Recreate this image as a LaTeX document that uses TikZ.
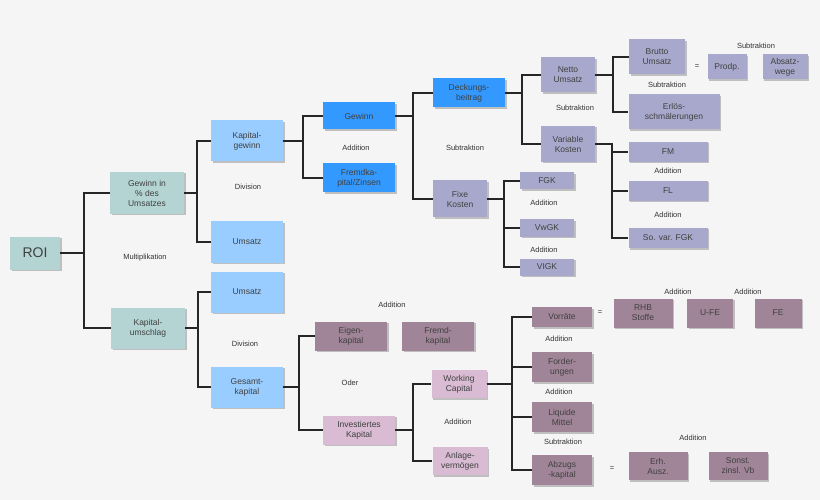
\documentclass[tikz,border=0pt]{standalone}
\usepackage{fontspec}
\setmainfont{Liberation Sans}
\usetikzlibrary{positioning,shadows}
\definecolor{bgc}{HTML}{F5F5F5}
\definecolor{teal}{HTML}{B4D4D4}
\definecolor{lblue}{HTML}{99CCFF}
\definecolor{dblue}{HTML}{3399FF}
\definecolor{lav}{HTML}{A8A8CC}
\definecolor{mauve}{HTML}{A08498}
\definecolor{pink}{HTML}{D9BCD3}
\tikzset{
  box/.style={draw=none, inner sep=0pt, align=center, font=\fontsize{8.5}{10}\selectfont,
    text=black!75, drop shadow={shadow xshift=1.5pt, shadow yshift=-1.5pt, fill=black!30, opacity=.8}},
  roi/.style={box, fill=teal},
  ebene/.style={box, fill=teal},
  hell/.style={box, fill=lblue},
  dunkel/.style={box, fill=dblue},
  lila/.style={box, fill=lav},
  braun/.style={box, fill=mauve},
  rosa/.style={box, fill=pink},
  op/.style={font=\fontsize{7.5}{9}\selectfont, text=black!80},
  conn/.style={line width=1.6pt, black!85},
}
\begin{document}
\begin{tikzpicture}[x=1pt,y=-1pt]
  \fill[bgc] (0,0) rectangle (820,500);
  % Baum links
  \node[roi, minimum width=50, minimum height=33, font=\fontsize{14}{16}\selectfont] (roi) at (35,253) {ROI};
  \node[ebene, minimum width=74, minimum height=42] (gpu) at (147,193) {Gewinn in\\\% des\\Umsatzes};
  \node[ebene, minimum width=74, minimum height=41] (kus) at (148,328) {Kapital-\\umschlag};
  \node[hell, minimum width=72, minimum height=41] (kgw) at (247,141) {Kapital-\\gewinn};
  \node[hell, minimum width=72, minimum height=41] (ums1) at (247,242) {Umsatz};
  \node[hell, minimum width=72, minimum height=41] (ums2) at (247,292) {Umsatz};
  \node[hell, minimum width=72, minimum height=41] (gk) at (247,387) {Gesamt-\\kapital};
  \node[dunkel, minimum width=72, minimum height=27] (gew) at (359,116) {Gewinn};
  \node[dunkel, minimum width=72, minimum height=29] (fkz) at (359,178) {Fremdka-\\pital/Zinsen};
  \node[braun, minimum width=72, minimum height=29] (ek) at (351,336) {Eigen-\\kapital};
  \node[braun, minimum width=72, minimum height=29] (fk) at (438,336) {Fremd-\\kapital};
  \node[rosa, minimum width=72, minimum height=29] (ik) at (359,430) {Investiertes\\Kapital};
  % Gewinn-Zweig
  \node[dunkel, minimum width=72, minimum height=29] (db) at (469,93) {Deckungs-\\beitrag};
  \node[lila, minimum width=54, minimum height=37] (fix) at (460,199) {Fixe\\Kosten};
  \node[lila, minimum width=54, minimum height=35] (nu) at (568,75) {Netto\\Umsatz};
  \node[lila, minimum width=54, minimum height=36] (vk) at (568,144) {Variable\\Kosten};
  \node[lila, minimum width=54, minimum height=17] (fgk) at (547,181) {FGK};
  \node[lila, minimum width=54, minimum height=17] (vwgk) at (547,228) {VwGK};
  \node[lila, minimum width=54, minimum height=17] (vigk) at (547,267) {VIGK};
  \node[lila, minimum width=56, minimum height=35] (bu) at (657,57) {Brutto\\Umsatz};
  \node[lila, minimum width=91, minimum height=35] (es) at (674,112) {Erlös-\\schmälerungen};
  \node[lila, minimum width=39, minimum height=25] (prodp) at (727,67) {Prodp.};
  \node[lila, minimum width=45, minimum height=25] (aw) at (785,67) {Absatz-\\wege};
  \node[lila, minimum width=79, minimum height=20] (fm) at (668,152) {FM};
  \node[lila, minimum width=79, minimum height=20] (fl) at (668,191) {FL};
  \node[lila, minimum width=79, minimum height=20] (svf) at (668,238) {So. var. FGK};
  % Kapital-Zweig
  \node[rosa, minimum width=55, minimum height=28] (wc) at (459,384) {Working\\Capital};
  \node[rosa, minimum width=55, minimum height=28] (av) at (460,461) {Anlage-\\vermögen};
  \node[braun, minimum width=60, minimum height=20] (vor) at (562,317) {Vorräte};
  \node[braun, minimum width=60, minimum height=30] (ford) at (562,367) {Forder-\\ungen};
  \node[braun, minimum width=60, minimum height=30] (lm) at (562,417) {Liquide\\Mittel};
  \node[braun, minimum width=60, minimum height=30] (abz) at (562,470) {Abzugs\\-kapital};
  \node[braun, minimum width=59, minimum height=29] (rhb) at (643,313) {RHB\\Stoffe};
  \node[braun, minimum width=46, minimum height=29] (ufe) at (710,313) {U-FE};
  \node[braun, minimum width=47, minimum height=29] (fe) at (778,313) {FE};
  \node[braun, minimum width=59, minimum height=28] (erh) at (658,466) {Erh.\\Ausz.};
  \node[braun, minimum width=59, minimum height=28] (sonst) at (738,466) {Sonst.\\zinsl. Vb};
  % Verbindungen
  \draw[conn] (roi.east) -- ++(24,0) |- (gpu.west);
  \draw[conn] (roi.east) -- ++(24,0) |- (kus.west);
  \draw[conn] (gpu.east) -- ++(13,0) |- (kgw.west);
  \draw[conn] (gpu.east) -- ++(13,0) |- (ums1.west);
  \draw[conn] (kus.east) -- ++(13,0) |- (ums2.west);
  \draw[conn] (kus.east) -- ++(13,0) |- (gk.west);
  \draw[conn] (kgw.east) -- ++(20,0) |- (gew.west);
  \draw[conn] (kgw.east) -- ++(20,0) |- (fkz.west);
  \draw[conn] (gk.east) -- ++(16,0) |- (ek.west);
  \draw[conn] (gk.east) -- ++(16,0) |- (ik.west);
  \draw[conn] (gew.east) -- ++(18,0) |- (db.west);
  \draw[conn] (gew.east) -- ++(18,0) |- (fix.west);
  \draw[conn] (db.east) -- ++(17,0) |- (nu.west);
  \draw[conn] (db.east) -- ++(17,0) |- (vk.west);
  \draw[conn] (fix.east) -- ++(17,0) |- (fgk.west);
  \draw[conn] (fix.east) -- ++(17,0) |- (vwgk.west);
  \draw[conn] (fix.east) -- ++(17,0) |- (vigk.west);
  \draw[conn] (nu.east) -- ++(18,0) |- (bu.west);
  \draw[conn] (nu.east) -- ++(18,0) |- (es.west);
  \draw[conn] (vk.east) -- ++(17,0) |- (fm.west);
  \draw[conn] (vk.east) -- ++(17,0) |- (fl.west);
  \draw[conn] (vk.east) -- ++(17,0) |- (svf.west);
  \draw[conn] (ik.east) -- ++(18,0) |- (wc.west);
  \draw[conn] (ik.east) -- ++(18,0) |- (av.west);
  \draw[conn] (wc.east) -- ++(25,0) |- (vor.west);
  \draw[conn] (wc.east) -- ++(25,0) |- (ford.west);
  \draw[conn] (wc.east) -- ++(25,0) |- (lm.west);
  \draw[conn] (wc.east) -- ++(25,0) |- (abz.west);
  % Rechenarten
  \node[op] (m1) at (145,258) {Multiplikation};
  \node[op] (d1) at (248,187) {Division};
  \node[op] (d2) at (245,344) {Division};
  \node[op] (a1) at (356,148) {Addition};
  \node[op] (a2) at (392,305) {Addition};
  \node[op] (o1) at (350,383) {Oder};
  \node[op] (s1) at (465,148) {Subtraktion};
  \node[op] (s2) at (575,108) {Subtraktion};
  \node[op] (s3) at (667,85) {Subtraktion};
  \node[op] (s4) at (756,46) {Subtraktion};
  \node[op] (eq1) at (697,67) {=};
  \node[op] (a3) at (544,203) {Addition};
  \node[op] (a4) at (544,250) {Addition};
  \node[op] (a5) at (668,171) {Addition};
  \node[op] (a6) at (668,215) {Addition};
  \node[op] (a7) at (458,422) {Addition};
  \node[op] (a8) at (559,339) {Addition};
  \node[op] (a9) at (559,392) {Addition};
  \node[op] (s5) at (563,442) {Subtraktion};
  \node[op] (eq2) at (600,313) {=};
  \node[op] (eq3) at (612,469) {=};
  \node[op] (a10) at (678,292) {Addition};
  \node[op] (a11) at (748,292) {Addition};
  \node[op] (a12) at (693,438) {Addition};
\end{tikzpicture}
\end{document}
